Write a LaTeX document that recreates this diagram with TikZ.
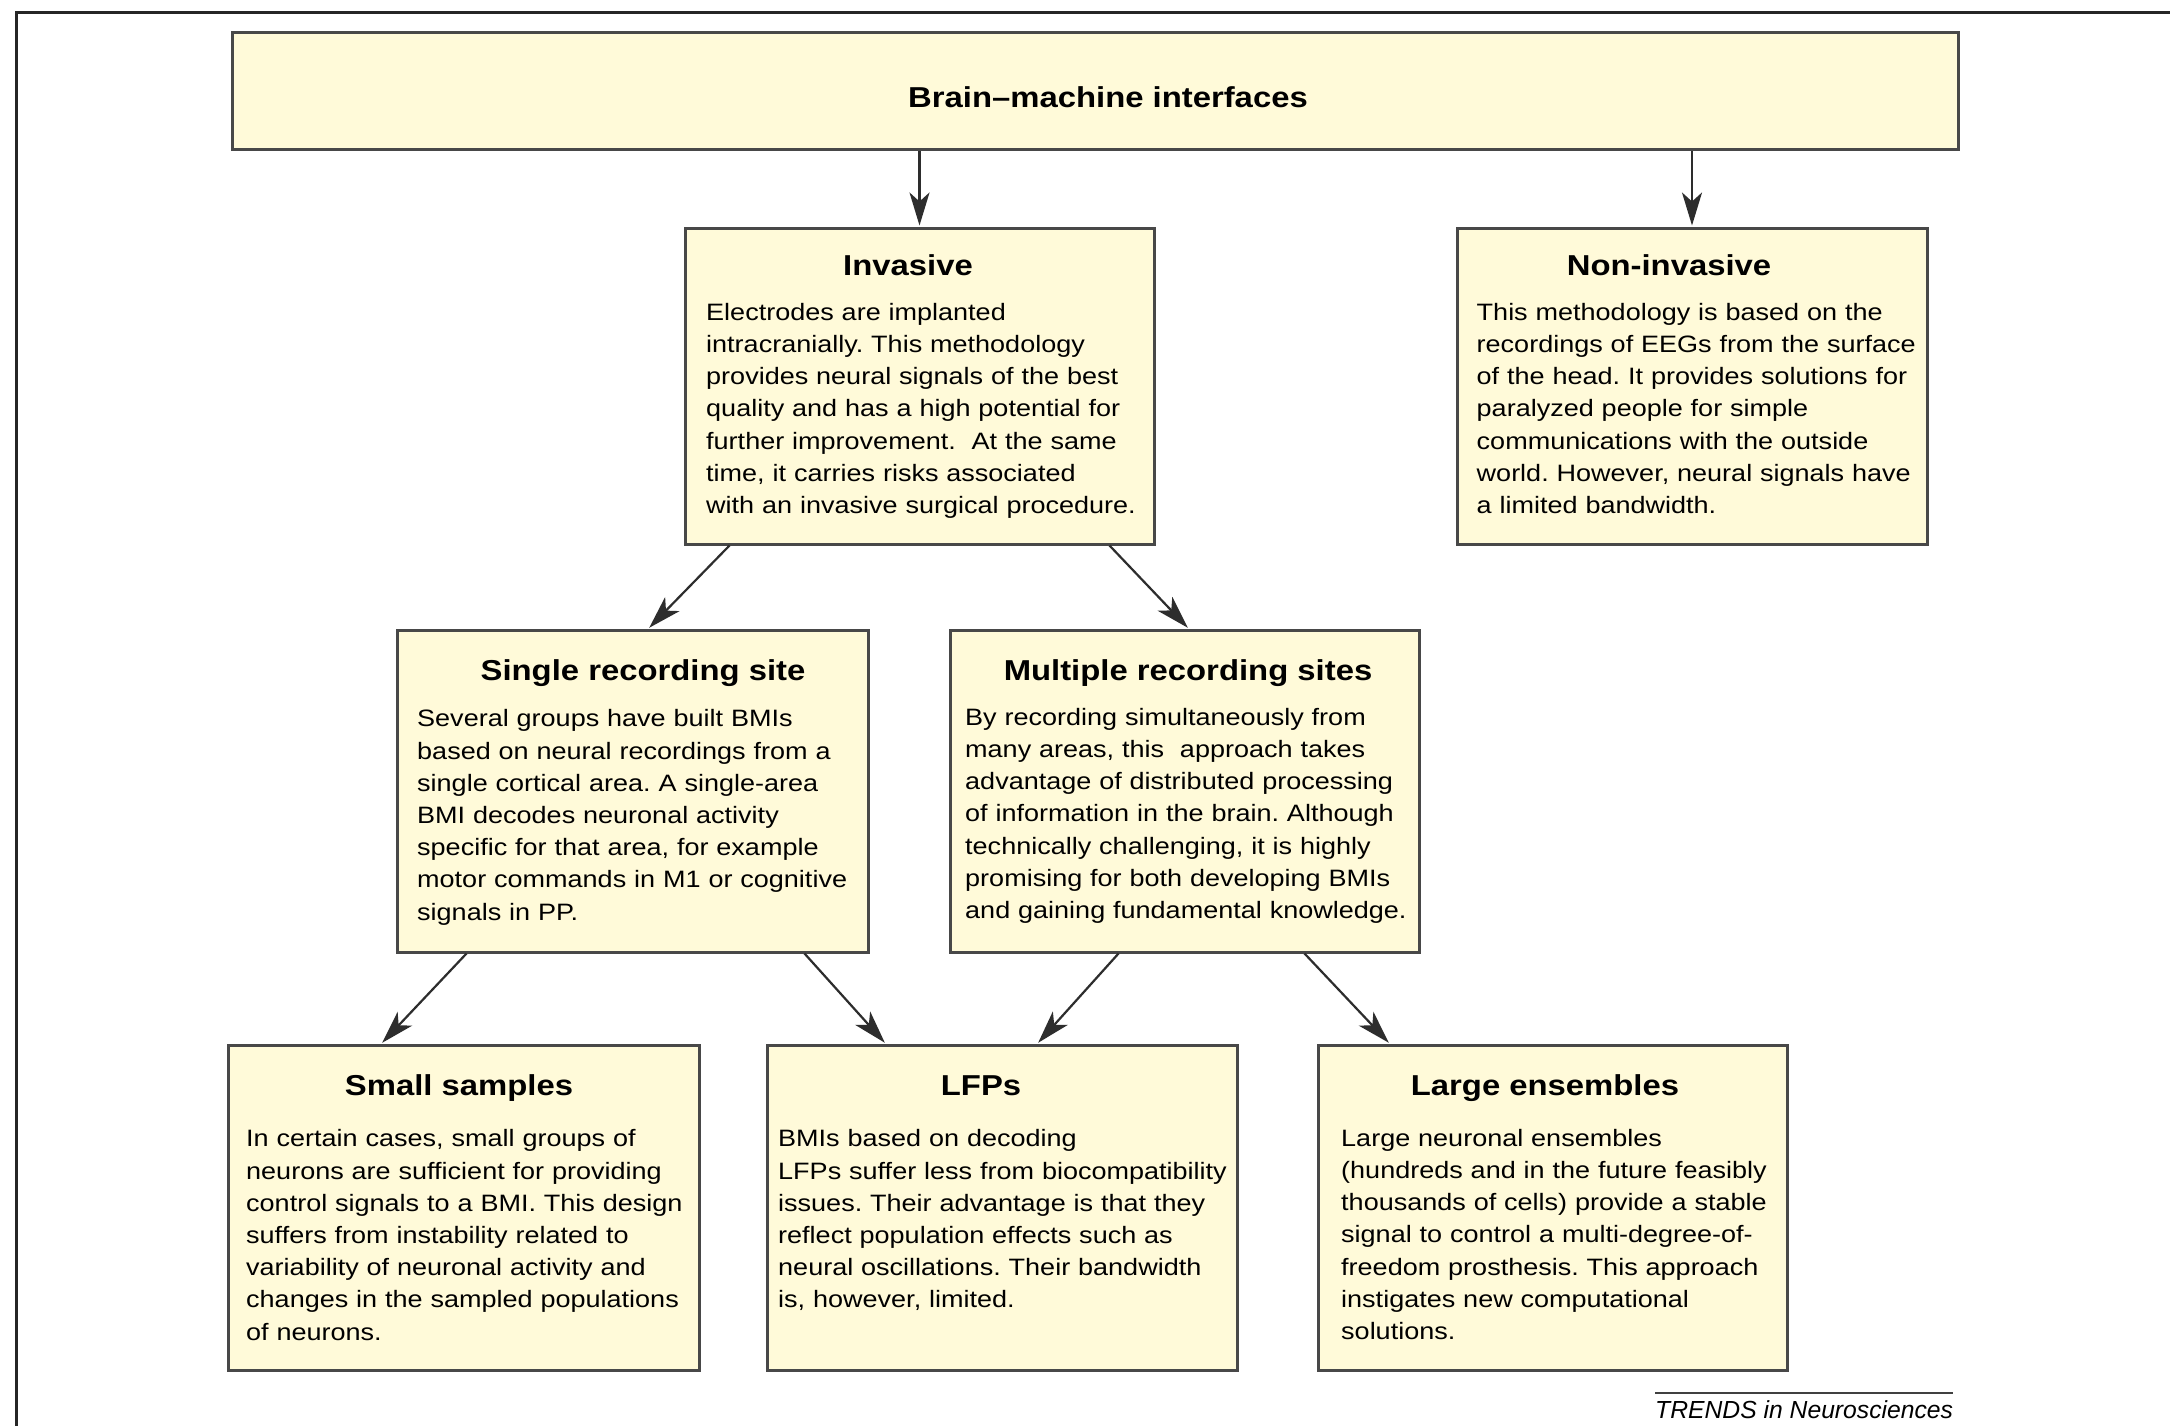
\documentclass[tikz,border=0pt]{standalone}
\usepackage{fontspec}
\setmainfont{Liberation Sans}
\newfontfamily\bodyf[FakeStretch=1.14]{Liberation Sans}
\usetikzlibrary{arrows.meta}
\definecolor{boxfill}{RGB}{255,250,217}
\definecolor{boxline}{RGB}{72,72,72}
\definecolor{conline}{RGB}{45,45,45}
\frenchspacing
\begin{document}
\begin{tikzpicture}[x=1pt,y=-1pt,
  bx/.style={draw=boxline, line width=3pt, fill=boxfill, inner sep=0pt, rectangle},
  ttl/.style={anchor=base, inner sep=0pt, font=\bodyf\bfseries\fontsize{28.8}{34}\selectfont},
  body/.style={anchor=north west, inner sep=0pt, align=left, text width=520pt, font=\bodyf\fontsize{23.7}{32.2}\selectfont},
  con/.style={draw=conline, line width=2.2pt, shorten >=1pt, -{Stealth[length=33pt,width=20pt,inset=9pt]}},
]
\useasboundingbox (0,0) rectangle (2170,1426);
\fill[white] (0,0) rectangle (2170,1426);
% frame
\draw[line width=3pt, black!85] (16,1426) -- (16,13) -- (2170,13);

% boxes
\node[bx, minimum width=1726pt, minimum height=116.5pt] (top) at (1095,91.25) {};
\node[bx, minimum width=469pt, minimum height=316pt] (inv) at (919.5,386) {};
\node[bx, minimum width=470pt, minimum height=316pt] (non) at (1692,386) {};
\node[bx, minimum width=471pt, minimum height=322pt] (sgl) at (632.5,791) {};
\node[bx, minimum width=469pt, minimum height=322pt] (mul) at (1184.5,791) {};
\node[bx, minimum width=471pt, minimum height=325pt] (sml) at (463.5,1207.5) {};
\node[bx, minimum width=470pt, minimum height=325pt] (lfp) at (1002,1207.5) {};
\node[bx, minimum width=469pt, minimum height=325pt] (lrg) at (1552.5,1207.5) {};

% titles
\node[ttl] (topT) at (1108,108) {Brain–machine interfaces};
\node[ttl] (invT) at (908,275) {Invasive};
\node[ttl] (nonT) at (1669,275) {Non-invasive};
\node[ttl] (sglT) at (643,680) {Single recording site};
\node[ttl] (mulT) at (1188,680) {Multiple recording sites};
\node[ttl] (smlT) at (459,1095) {Small samples};
\node[ttl] (lfpT) at (981,1095) {LFPs};
\node[ttl] (lrgT) at (1545,1095) {Large ensembles};

% bodies
\node[body] (invB) at (706,297.5) {\strut Electrodes are implanted\\
intracranially. This methodology\\
provides neural signals of the best\\
quality and has a high potential for\\
further improvement.\ \ At the same\\
time, it carries risks associated\\
with an invasive surgical procedure.};
\node[body] (nonB) at (1476.5,297.5) {\strut This methodology is based on the\\
recordings of EEGs from the surface\\
of the head. It provides solutions for\\
paralyzed people for simple\\
communications with the outside\\
world. However, neural signals have\\
a limited bandwidth.};
\node[body] (sglB) at (417,704.2) {\strut Several groups have built BMIs\\
based on neural recordings from a\\
single cortical area. A single-area\\
BMI decodes neuronal activity\\
specific for that area, for example\\
motor commands in M1 or cognitive\\
signals in PP.};
\node[body] (mulB) at (965,702.5) {\strut By recording simultaneously from\\
many areas, this\ \ approach takes\\
advantage of distributed processing\\
of information in the brain. Although\\
technically challenging, it is highly\\
promising for both developing BMIs\\
and gaining fundamental knowledge.};
\node[body] (smlB) at (246,1124.2) {\strut In certain cases, small groups of\\
neurons are sufficient for providing\\
control signals to a BMI. This design\\
suffers from instability related to\\
variability of neuronal activity and\\
changes in the sampled populations\\
of neurons.};
\node[body] (lfpB) at (778,1124.2) {\strut BMIs based on decoding\\
LFPs suffer less from biocompatibility\\
issues. Their advantage is that they\\
reflect population effects such as\\
neural oscillations. Their bandwidth\\
is, however, limited.};
\node[body] (lrgB) at (1341,1123.5) {\strut Large neuronal ensembles\\
(hundreds and in the future feasibly\\
thousands of cells) provide a stable\\
signal to control a multi-degree-of-\\
freedom prosthesis. This approach\\
instigates new computational\\
solutions.};

% connectors
\draw[con] (top.south -| inv.north) -- (inv.north);
\draw[con] (top.south -| non.north) -- (non.north);
\draw[con] ([xshift=46pt]inv.south west) -- ([xshift=253pt]sgl.north west);
\draw[con] ([xshift=-46pt]inv.south east) -- ([xshift=240pt]mul.north west);
\draw[con] ([xshift=71pt]sgl.south west) -- ([xshift=155pt]sml.north west);
\draw[con] ([xshift=-65pt]sgl.south east) -- ([xshift=120pt]lfp.north west);
\draw[con] ([xshift=170pt]mul.south west) -- ([xshift=272pt]lfp.north west);
\draw[con] ([xshift=-116pt]mul.south east) -- ([xshift=73pt]lrg.north west);

% credit
\node[anchor=base west, inner sep=0pt, font=\itshape\fontsize{24.7}{28}\selectfont] (credit) at (1655,1418) {TRENDS in Neurosciences};
\draw[line width=1.8pt, black!75] (credit.north west |- 0,1393) -- (credit.north east |- 0,1393);
\end{tikzpicture}
\end{document}
